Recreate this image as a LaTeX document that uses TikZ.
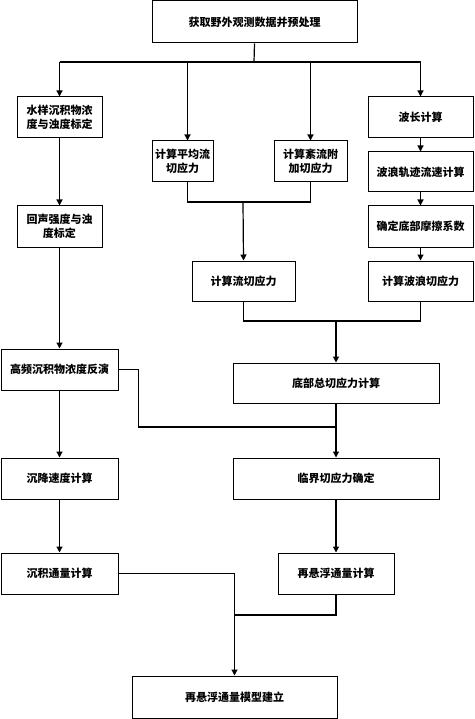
\documentclass[tikz,border=0pt]{standalone}
\usepackage{fontspec}
\setmainfont{Noto Sans CJK SC}
\usetikzlibrary{arrows.meta,calc}
\begin{document}
\begin{tikzpicture}[x=1pt,y=-1pt,
  box/.style={draw,line width=1pt,inner sep=0pt,align=center,font=\fontsize{11pt}{14pt}\selectfont\bfseries},
  ln/.style={line width=1.2pt},
  arr/.style={line width=1.2pt,-{Triangle[length=6pt,width=6pt]}}]
\useasboundingbox (0,0) rectangle (474,719);
% boxes
\node[box,minimum width=205pt,minimum height=42pt] (T) at (254.5,22) {获取野外观测数据并预处理};
\node[box,minimum width=85pt,minimum height=41pt] (A) at (59.5,117.5) {水样沉积物浓\\度与浊度标定};
\node[box,minimum width=61pt,minimum height=41pt] (B) at (182.5,161.5) {计算平均流\\切应力};
\node[box,minimum width=73pt,minimum height=41pt] (C) at (310.5,161.5) {计算紊流附\\加切应力};
\node[box,minimum width=105pt,minimum height=41pt] (D) at (420.5,117.5) {波长计算};
\node[box,minimum width=105pt,minimum height=40pt] (E) at (420.5,172) {波浪轨迹流速计算};
\node[box,minimum width=105pt,minimum height=41pt] (F) at (420.5,226.5) {确定底部摩擦系数};
\node[box,minimum width=85pt,minimum height=41pt] (A2) at (59.5,226.5) {回声强度与浊\\度标定};
\node[box,minimum width=103pt,minimum height=40pt] (G) at (243.5,281) {计算流切应力};
\node[box,minimum width=105pt,minimum height=40pt] (H) at (420.5,281) {计算波浪切应力};
\node[box,minimum width=206pt,minimum height=40pt] (I) at (336,383) {底部总切应力计算};
\node[box,minimum width=117pt,minimum height=41pt] (J) at (59.5,369.5) {高频沉积物浓度反演};
\node[box,minimum width=206pt,minimum height=41pt] (K) at (336,478.5) {临界切应力确定};
\node[box,minimum width=117pt,minimum height=41pt] (L) at (59.5,478.5) {沉降速度计算};
\node[box,minimum width=117pt,minimum height=41pt] (M) at (59.5,573.5) {沉积通量计算};
\node[box,minimum width=116pt,minimum height=41pt] (N) at (336,573.5) {再悬浮通量计算};
\node[box,minimum width=205pt,minimum height=42pt] (O) at (234.5,697) {再悬浮通量模型建立};
% junction coordinates
\coordinate (j1) at (254,62);
\coordinate (j2) at (243,202);
\coordinate (j3) at (336,321);
\coordinate (j4) at (336,427);
\coordinate (j5) at (234,615);
\coordinate (bN) at ($(B.north west)+(36,0)$);
\coordinate (bS) at ($(B.south west)+(36,0)$);
% top distribution
\draw[ln] (T.south) -- (j1);
\draw[ln] (A.north |- j1) -- (D.north |- j1);
\draw[arr] (A.north |- j1) -- (A.north);
\draw[arr] (bN |- j1) -- (bN);
\draw[arr] (C.north |- j1) -- (C.north);
\draw[arr] (D.north |- j1) -- (D.north);
% left column
\draw[arr] (A.south) -- (A2.north);
\draw[arr] (A2.south) -- (J.north);
\draw[arr] (J.south) -- (L.north);
\draw[arr] (L.south) -- (M.north);
% right column
\draw[arr] (D.south) -- (E.north);
\draw[arr] (E.south) -- (F.north);
\draw[arr] (F.south) -- (H.north);
% B and C merge to G
\draw[ln] (bS) |- (j2) -| (C.south);
\draw[arr] (j2) -- (G.north);
% G and H merge to I
\draw[ln] (G.south) |- (j3) -| (H.south);
\draw[arr] (j3) -- (I.north);
% J and I to K
\draw[ln] (J.east) -- ++(20,0) |- (j4);
\draw[arr] (I.south) -- (K.north);
\draw[arr] (K.south) -- (N.north);
% M and N to O
\draw[arr] (M.east) -| (O.north);
\draw[ln] (N.south) |- (j5);
\end{tikzpicture}
\end{document}
